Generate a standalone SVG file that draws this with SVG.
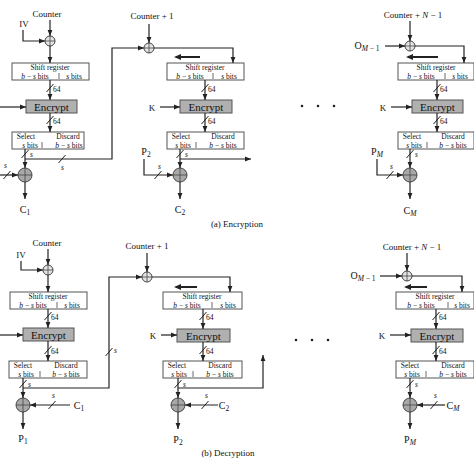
<svg xmlns="http://www.w3.org/2000/svg" xmlns:xlink="http://www.w3.org/1999/xlink" width="474" height="474" viewBox="0 0 474 474">
<style>
text{font-family:"Liberation Serif","Times New Roman",serif;fill:#111;}
.t{font-size:9px;text-anchor:middle;}
.b{font-size:7.5px;text-anchor:middle;}
.e{font-size:11px;text-anchor:middle;}
.l{font-size:10px;text-anchor:middle;}
.s{font-size:7.5px;}
.ln{fill:none;stroke:#222;stroke-width:1.2;}
.th{fill:none;stroke:#222;stroke-width:2;}
.box{fill:#fff;stroke:#555;stroke-width:1;}
.enc{fill:#b0b0b0;stroke:#555;stroke-width:1;}
.dv{stroke:#444;stroke-width:0.8;}
</style>
<defs>
<marker id="ah" viewBox="0 0 10 10" refX="10" refY="5" markerWidth="6" markerHeight="6" markerUnits="userSpaceOnUse" orient="auto"><path d="M0,1 L10,5 L0,9 z" fill="#222"/></marker>
<g id="xs"><circle r="5" fill="#e4e4e4" stroke="#444" stroke-width="1"/><path d="M-5,0H5M0,-5V5" stroke="#444" stroke-width="0.8"/></g>
<g id="xb"><circle r="7" fill="#a8a8a8" stroke="#444" stroke-width="1"/><path d="M-7,0H7M0,-7V7" stroke="#444" stroke-width="0.8"/></g>
<path id="sl" d="M-3.5,4 L3.5,-4" stroke="#222" stroke-width="1" fill="none"/>
</defs>

<!-- ================= (a) Encryption ================= -->
<g id="a-col1">
<text class="t" x="47" y="17">Counter</text>
<text class="t" x="24" y="27">IV</text>
<use xlink:href="#xs" x="50" y="41"/>
<rect class="box" x="12" y="63" width="77" height="17"/>
<text class="b" x="50" y="70.2">Shift register</text>
<text class="b" x="35" y="78.5"><tspan font-style="italic">b</tspan> − <tspan font-style="italic">s</tspan> bits</text>
<line class="dv" x1="59" y1="73" x2="59" y2="79"/>
<text class="b" x="74" y="78.5"><tspan font-style="italic">s</tspan> bits</text>
<rect class="enc" x="26" y="100" width="51" height="13"/>
<text class="e" x="51.5" y="110.5">Encrypt</text>
<rect class="box" x="12" y="132" width="72" height="17"/>
<text class="b" x="26" y="139.2">Select</text>
<text class="b" x="68" y="139.2">Discard</text>
<text class="b" x="30" y="147.5"><tspan font-style="italic">s</tspan> bits</text>
<line class="dv" x1="42" y1="142" x2="42" y2="148"/>
<text class="b" x="69" y="147.5"><tspan font-style="italic">b</tspan> − <tspan font-style="italic">s</tspan> bits</text>
<use xlink:href="#xb" x="25" y="175"/>
<text class="l" x="25" y="213">C<tspan class="s" dy="2">1</tspan></text>
</g>

<g id="a-col2">
<text class="t" x="152" y="19">Counter + 1</text>
<use xlink:href="#xs" x="149" y="48"/>
<rect class="box" x="167" y="63" width="77" height="17"/>
<text class="b" x="205" y="70.2">Shift register</text>
<text class="b" x="190" y="78.5"><tspan font-style="italic">b</tspan> − <tspan font-style="italic">s</tspan> bits</text>
<line class="dv" x1="213" y1="73" x2="213" y2="79"/>
<text class="b" x="229" y="78.5"><tspan font-style="italic">s</tspan> bits</text>
<text class="t" x="152" y="110.5">K</text>
<rect class="enc" x="180" y="100" width="52" height="13"/>
<text class="e" x="206" y="110.5">Encrypt</text>
<rect class="box" x="167" y="132" width="77" height="17"/>
<text class="b" x="181" y="139.2">Select</text>
<text class="b" x="223" y="139.2">Discard</text>
<text class="b" x="183" y="147.5"><tspan font-style="italic">s</tspan> bits</text>
<line class="dv" x1="196" y1="142" x2="196" y2="148"/>
<text class="b" x="223" y="147.5"><tspan font-style="italic">b</tspan> − <tspan font-style="italic">s</tspan> bits</text>
<text class="l" x="146" y="155">P<tspan class="s" dy="2">2</tspan></text>
<use xlink:href="#xb" x="180" y="175"/>
<text class="l" x="180" y="213">C<tspan class="s" dy="2">2</tspan></text>
</g>

<g id="a-col3">
<text class="t" x="413" y="18">Counter + <tspan font-style="italic">N</tspan> − 1</text>
<text class="l" x="367" y="49">O<tspan class="s" dy="2"><tspan font-style="italic">M</tspan> − 1</tspan></text>
<use xlink:href="#xs" x="410" y="46"/>
<rect class="box" x="398" y="63" width="76" height="17"/>
<text class="b" x="436" y="70.2">Shift register</text>
<text class="b" x="421" y="78.5"><tspan font-style="italic">b</tspan> − <tspan font-style="italic">s</tspan> bits</text>
<line class="dv" x1="445" y1="73" x2="445" y2="79"/>
<text class="b" x="460" y="78.5"><tspan font-style="italic">s</tspan> bits</text>
<text class="t" x="383" y="110.5">K</text>
<rect class="enc" x="412" y="100" width="51" height="13"/>
<text class="e" x="437.5" y="110.5">Encrypt</text>
<rect class="box" x="398" y="132" width="76" height="17"/>
<text class="b" x="412" y="139.2">Select</text>
<text class="b" x="453" y="139.2">Discard</text>
<text class="b" x="414" y="147.5"><tspan font-style="italic">s</tspan> bits</text>
<line class="dv" x1="427" y1="142" x2="427" y2="148"/>
<text class="b" x="453" y="147.5"><tspan font-style="italic">b</tspan> − <tspan font-style="italic">s</tspan> bits</text>
<text class="l" x="377" y="155">P<tspan class="s" dy="2" font-style="italic">M</tspan></text>
<use xlink:href="#xb" x="410" y="175"/>
<text class="l" x="410" y="214">C<tspan class="s" dy="2" font-style="italic">M</tspan></text>
</g>

<g id="a-dots" fill="#222"><circle cx="302" cy="106" r="1.3"/><circle cx="318" cy="106" r="1.3"/><circle cx="334" cy="106" r="1.3"/></g>
<text class="t" x="237" y="227">(a) Encryption</text>

<!-- ================= (b) Decryption ================= -->
<g id="b-col1">
<text class="t" x="47" y="246">Counter</text>
<text class="t" x="21" y="258">IV</text>
<use xlink:href="#xs" x="48" y="270"/>
<rect class="box" x="10" y="292" width="77" height="17"/>
<text class="b" x="48" y="299.2">Shift register</text>
<text class="b" x="33" y="307.5"><tspan font-style="italic">b</tspan> − <tspan font-style="italic">s</tspan> bits</text>
<line class="dv" x1="57" y1="302" x2="57" y2="308"/>
<text class="b" x="72" y="307.5"><tspan font-style="italic">s</tspan> bits</text>
<rect class="enc" x="23" y="328" width="51" height="13"/>
<text class="e" x="48.5" y="338.5">Encrypt</text>
<rect class="box" x="9" y="361" width="78" height="17"/>
<text class="b" x="23" y="368.2">Select</text>
<text class="b" x="66" y="368.2">Discard</text>
<text class="b" x="26" y="376.5"><tspan font-style="italic">s</tspan> bits</text>
<line class="dv" x1="40" y1="371" x2="40" y2="377"/>
<text class="b" x="66" y="376.5"><tspan font-style="italic">b</tspan> − <tspan font-style="italic">s</tspan> bits</text>
<use xlink:href="#xb" x="23" y="405"/>
<text class="l" x="79" y="409">C<tspan class="s" dy="2">1</tspan></text>
<text class="l" x="23" y="442">P<tspan class="s" dy="2">1</tspan></text>
</g>

<g id="b-col2">
<text class="t" x="147" y="249">Counter + 1</text>
<use xlink:href="#xs" x="147" y="277"/>
<rect class="box" x="163" y="292" width="79" height="17"/>
<text class="b" x="202" y="299.2">Shift register</text>
<text class="b" x="187" y="307.5"><tspan font-style="italic">b</tspan> − <tspan font-style="italic">s</tspan> bits</text>
<line class="dv" x1="212" y1="302" x2="212" y2="308"/>
<text class="b" x="228" y="307.5"><tspan font-style="italic">s</tspan> bits</text>
<text class="t" x="153" y="338.5">K</text>
<rect class="enc" x="177" y="329" width="53" height="13"/>
<text class="e" x="203.5" y="339.5">Encrypt</text>
<rect class="box" x="163" y="361" width="79" height="17"/>
<text class="b" x="177" y="368.2">Select</text>
<text class="b" x="220" y="368.2">Discard</text>
<text class="b" x="179" y="376.5"><tspan font-style="italic">s</tspan> bits</text>
<line class="dv" x1="193" y1="371" x2="193" y2="377"/>
<text class="b" x="220" y="376.5"><tspan font-style="italic">b</tspan> − <tspan font-style="italic">s</tspan> bits</text>
<use xlink:href="#xb" x="178" y="405"/>
<text class="l" x="224" y="409">C<tspan class="s" dy="2">2</tspan></text>
<text class="l" x="178" y="443">P<tspan class="s" dy="2">2</tspan></text>
</g>

<g id="b-col3">
<text class="t" x="412" y="250">Counter + <tspan font-style="italic">N</tspan> − 1</text>
<text class="l" x="363" y="279">O<tspan class="s" dy="2"><tspan font-style="italic">M</tspan> − 1</tspan></text>
<use xlink:href="#xs" x="407" y="276"/>
<rect class="box" x="396" y="292" width="78" height="17"/>
<text class="b" x="435" y="299.2">Shift register</text>
<text class="b" x="421" y="307.5"><tspan font-style="italic">b</tspan> − <tspan font-style="italic">s</tspan> bits</text>
<line class="dv" x1="448" y1="302" x2="448" y2="308"/>
<text class="b" x="462" y="307.5"><tspan font-style="italic">s</tspan> bits</text>
<text class="t" x="382" y="338.5">K</text>
<rect class="enc" x="411" y="329" width="52" height="13"/>
<text class="e" x="437" y="339.5">Encrypt</text>
<rect class="box" x="396" y="361" width="78" height="17"/>
<text class="b" x="410" y="368.2">Select</text>
<text class="b" x="453" y="368.2">Discard</text>
<text class="b" x="412" y="376.5"><tspan font-style="italic">s</tspan> bits</text>
<line class="dv" x1="426" y1="371" x2="426" y2="377"/>
<text class="b" x="453" y="376.5"><tspan font-style="italic">b</tspan> − <tspan font-style="italic">s</tspan> bits</text>
<use xlink:href="#xb" x="410" y="405"/>
<text class="l" x="453" y="409">C<tspan class="s" dy="2" font-style="italic">M</tspan></text>
<text class="l" x="410" y="443">P<tspan class="s" dy="2" font-style="italic">M</tspan></text>
</g>

<g id="b-dots" fill="#222"><circle cx="296" cy="340" r="1.3"/><circle cx="312" cy="340" r="1.3"/><circle cx="328" cy="340" r="1.3"/></g>
<text class="t" x="228" y="456">(b) Decryption</text>

<!-- ================= connectors ================= -->
<g id="connectors">
<!-- (a) col1 -->
<line class="ln" x1="50" y1="20" x2="50" y2="36" marker-end="url(#ah)"/>
<path class="ln" d="M23,30 V41 H45" marker-end="url(#ah)"/>
<line class="ln" x1="50" y1="46" x2="50" y2="63" marker-end="url(#ah)"/>
<line class="ln" x1="50" y1="80" x2="50" y2="100" marker-end="url(#ah)"/>
<use xlink:href="#sl" x="50" y="88"/><text class="s" x="53" y="92">64</text>
<line class="ln" x1="0" y1="107" x2="26" y2="107" marker-end="url(#ah)"/>
<line class="ln" x1="50" y1="113" x2="50" y2="132" marker-end="url(#ah)"/>
<use xlink:href="#sl" x="50" y="120"/><text class="s" x="53" y="124">64</text>
<line class="ln" x1="25" y1="149" x2="25" y2="168" marker-end="url(#ah)"/>
<use xlink:href="#sl" x="25" y="154"/><text class="s" x="30" y="157" font-style="italic">s</text>
<path class="ln" d="M25,159 H112 V48 H144" marker-end="url(#ah)"/>
<use xlink:href="#sl" x="62" y="159"/><text class="s" x="61" y="170" font-style="italic">s</text>
<line class="ln" x1="0" y1="175" x2="18" y2="175" marker-end="url(#ah)"/>
<use xlink:href="#sl" x="7" y="175"/><text class="s" x="4" y="168" font-style="italic">s</text>
<line class="ln" x1="25" y1="182" x2="25" y2="199" marker-end="url(#ah)"/>
<!-- (a) col2 -->
<line class="ln" x1="149" y1="24" x2="149" y2="43" marker-end="url(#ah)"/>
<path class="ln" d="M154,48 H233 V63" marker-end="url(#ah)"/>
<line class="th" x1="200" y1="57" x2="176" y2="57"/><path d="M174,57 L181,54 L181,60 z" fill="#222"/>
<line class="ln" x1="205" y1="80" x2="205" y2="100" marker-end="url(#ah)"/>
<use xlink:href="#sl" x="205" y="88"/><text class="s" x="208" y="92">64</text>
<line class="ln" x1="160" y1="107" x2="180" y2="107" marker-end="url(#ah)"/>
<line class="ln" x1="205" y1="113" x2="205" y2="132" marker-end="url(#ah)"/>
<use xlink:href="#sl" x="205" y="120"/><text class="s" x="208" y="124">64</text>
<line class="ln" x1="180" y1="149" x2="180" y2="168" marker-end="url(#ah)"/>
<use xlink:href="#sl" x="180" y="154"/><text class="s" x="185" y="157" font-style="italic">s</text>
<line class="ln" x1="180" y1="159" x2="251" y2="159" marker-end="url(#ah)"/>
<path class="ln" d="M144,159 V175 H173" marker-end="url(#ah)"/>
<use xlink:href="#sl" x="158" y="175"/><text class="s" x="158" y="169" font-style="italic">s</text>
<line class="ln" x1="180" y1="182" x2="180" y2="199" marker-end="url(#ah)"/>
<!-- (a) col3 -->
<line class="ln" x1="410" y1="21" x2="410" y2="41" marker-end="url(#ah)"/>
<line class="ln" x1="385" y1="46" x2="405" y2="46" marker-end="url(#ah)"/>
<path class="ln" d="M415,46 H464 V63" marker-end="url(#ah)"/>
<line class="th" x1="438" y1="57" x2="408" y2="57"/><path d="M406,57 L413,54 L413,60 z" fill="#222"/>
<line class="ln" x1="437" y1="80" x2="437" y2="100" marker-end="url(#ah)"/>
<use xlink:href="#sl" x="437" y="88"/><text class="s" x="440" y="92">64</text>
<line class="ln" x1="391" y1="107" x2="412" y2="107" marker-end="url(#ah)"/>
<line class="ln" x1="437" y1="113" x2="437" y2="132" marker-end="url(#ah)"/>
<use xlink:href="#sl" x="437" y="120"/><text class="s" x="440" y="124">64</text>
<line class="ln" x1="410" y1="149" x2="410" y2="168" marker-end="url(#ah)"/>
<use xlink:href="#sl" x="410" y="154"/><text class="s" x="415" y="157" font-style="italic">s</text>
<path class="ln" d="M377,159 V175 H403" marker-end="url(#ah)"/>
<use xlink:href="#sl" x="390" y="175"/><text class="s" x="390" y="169" font-style="italic">s</text>
<line class="ln" x1="410" y1="182" x2="410" y2="199" marker-end="url(#ah)"/>

<!-- (b) col1 -->
<line class="ln" x1="48" y1="249" x2="48" y2="265" marker-end="url(#ah)"/>
<path class="ln" d="M21,261 V270 H43" marker-end="url(#ah)"/>
<line class="ln" x1="48" y1="275" x2="48" y2="292" marker-end="url(#ah)"/>
<line class="ln" x1="48" y1="309" x2="48" y2="328" marker-end="url(#ah)"/>
<use xlink:href="#sl" x="48" y="316"/><text class="s" x="51" y="320">64</text>
<line class="ln" x1="0" y1="335" x2="23" y2="335" marker-end="url(#ah)"/>
<line class="ln" x1="48" y1="341" x2="48" y2="361" marker-end="url(#ah)"/>
<use xlink:href="#sl" x="48" y="350"/><text class="s" x="51" y="354">64</text>
<line class="ln" x1="23" y1="378" x2="23" y2="398" marker-end="url(#ah)"/>
<use xlink:href="#sl" x="23" y="384"/><text class="s" x="28" y="387" font-style="italic">s</text>
<path class="ln" d="M23,388 H109 V277 H142" marker-end="url(#ah)"/>
<use xlink:href="#sl" x="109" y="352"/><text class="s" x="114" y="353" font-style="italic">s</text>
<line class="ln" x1="70" y1="405" x2="30" y2="405" marker-end="url(#ah)"/>
<use xlink:href="#sl" x="52" y="405"/><text class="s" x="52" y="398" font-style="italic">s</text>
<line class="ln" x1="23" y1="412" x2="23" y2="429" marker-end="url(#ah)"/>
<!-- (b) col2 -->
<line class="ln" x1="147" y1="253" x2="147" y2="272" marker-end="url(#ah)"/>
<path class="ln" d="M152,277 H230 V292" marker-end="url(#ah)"/>
<line class="th" x1="197" y1="287" x2="176" y2="287"/><path d="M174,287 L181,284 L181,290 z" fill="#222"/>
<line class="ln" x1="203" y1="309" x2="203" y2="329" marker-end="url(#ah)"/>
<use xlink:href="#sl" x="203" y="316"/><text class="s" x="206" y="320">64</text>
<line class="ln" x1="161" y1="335" x2="177" y2="335" marker-end="url(#ah)"/>
<line class="ln" x1="203" y1="342" x2="203" y2="361" marker-end="url(#ah)"/>
<use xlink:href="#sl" x="203" y="350"/><text class="s" x="206" y="354">64</text>
<line class="ln" x1="178" y1="378" x2="178" y2="398" marker-end="url(#ah)"/>
<use xlink:href="#sl" x="178" y="384"/><text class="s" x="183" y="387" font-style="italic">s</text>
<path class="ln" d="M178,388 H263 V355" marker-end="url(#ah)"/>
<line class="ln" x1="218" y1="405" x2="185" y2="405" marker-end="url(#ah)"/>
<use xlink:href="#sl" x="205" y="405"/><text class="s" x="205" y="398" font-style="italic">s</text>
<line class="ln" x1="178" y1="412" x2="178" y2="429" marker-end="url(#ah)"/>
<!-- (b) col3 -->
<line class="ln" x1="407" y1="253" x2="407" y2="271" marker-end="url(#ah)"/>
<line class="ln" x1="380" y1="276" x2="402" y2="276" marker-end="url(#ah)"/>
<path class="ln" d="M412,276 H462 V292" marker-end="url(#ah)"/>
<line class="th" x1="427" y1="287" x2="406" y2="287"/><path d="M404,287 L411,284 L411,290 z" fill="#222"/>
<line class="ln" x1="436" y1="309" x2="436" y2="329" marker-end="url(#ah)"/>
<use xlink:href="#sl" x="436" y="316"/><text class="s" x="439" y="320">64</text>
<line class="ln" x1="390" y1="335" x2="411" y2="335" marker-end="url(#ah)"/>
<line class="ln" x1="436" y1="342" x2="436" y2="361" marker-end="url(#ah)"/>
<use xlink:href="#sl" x="436" y="350"/><text class="s" x="439" y="354">64</text>
<line class="ln" x1="410" y1="378" x2="410" y2="398" marker-end="url(#ah)"/>
<use xlink:href="#sl" x="410" y="384"/><text class="s" x="415" y="387" font-style="italic">s</text>
<line class="ln" x1="445" y1="405" x2="417" y2="405" marker-end="url(#ah)"/>
<use xlink:href="#sl" x="434" y="405"/><text class="s" x="434" y="398" font-style="italic">s</text>
<line class="ln" x1="410" y1="412" x2="410" y2="429" marker-end="url(#ah)"/>
</g>
</svg>
